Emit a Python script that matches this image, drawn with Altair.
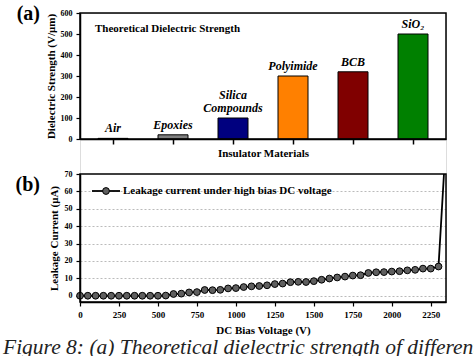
import altair as alt
import pandas as pd

# ---------------- data ----------------
materials = ["Air", "Epoxies", "Silica Compounds", "Polyimide", "BCB", "SiO2"]
bar_labels = ["Air", "Epoxies", "Silica\nCompounds", "Polyimide", "BCB", "SiO₂"]
strength = [3, 20, 100, 300, 320, 500]
bar_colors = ["#111111", "#808080", "#00007f", "#ff8000", "#800000", "#008000"]

voltage = [0, 50, 100, 150, 200, 250, 300, 350, 400, 450, 500, 550,
           600, 650, 700, 750, 800, 850, 900, 950, 1000, 1050, 1100, 1150,
           1200, 1250, 1300, 1350, 1400, 1450, 1500, 1550, 1600, 1650, 1700,
           1750, 1800, 1850, 1900, 1950, 2000, 2050, 2100, 2150, 2200, 2250, 2300]
current = [0, 0, 0, 0, 0, 0, 0, 0, 0, 0, 0, 0.1,
           1.0, 1.2, 1.9, 2.1, 3.3, 3.2, 3.4, 4.2, 4.4, 5.0, 5.4, 5.6,
           6.0, 6.7, 7.0, 7.8, 8.0, 7.9, 8.4, 9.2, 9.9, 10.5, 11.0,
           11.6, 11.8, 13.1, 13.5, 13.6, 13.9, 14.1, 14.6, 14.9, 15.6, 15.6, 16.8]
breakdown_voltage = [2335]
breakdown_current = [70]

a_ticks = list(range(0, 601, 50))
b_xticks = list(range(0, 2251, 125))
b_yticks = list(range(0, 71, 5))

FONT = "Liberation Serif"

# layout (pixels inside the single plot area)
W = 366
H = 289
A_BOTTOM = 126          # panel (a) occupies y 0..126
B_TOP, B_BOTTOM = 161, 289  # panel (b) occupies y 161..289

one = pd.DataFrame({"k": [0]})

# ---------------- panel (a) ----------------
df_a = pd.DataFrame({"material": materials, "label": bar_labels,
                     "strength": strength, "color": bar_colors})

x_a = alt.X("material:N", sort=materials,
            scale=alt.Scale(paddingInner=0.5, paddingOuter=0.3),
            axis=alt.Axis(orient="bottom", offset=A_BOTTOM - H, labels=False,
                          title="Insulator Materials", tickSize=5,
                          tickColor="black", tickWidth=1.5, domainColor="black",
                          domainWidth=1.5, titleFontSize=11, titleFontWeight="bold",
                          titleFont=FONT, titleColor="black", titlePadding=3))
y_a = alt.Y("strength:Q", scale=alt.Scale(domain=[0, 600], nice=False, range=[A_BOTTOM, 0]),
            axis=alt.Axis(orient="left", values=a_ticks, title="Dielectric Strength (V/μm)",
                          labelExpr="datum.value % 100 == 0 ? datum.label : ''",
                          tickSize=alt.condition("datum.value % 100 == 0", alt.value(4), alt.value(2.5)),
                          tickColor="black", tickWidth=1.2, domainColor="black", domainWidth=1.5,
                          labelFont=FONT, labelFontSize=8, labelFontWeight="bold", labelColor="black",
                          labelPadding=4, titleFont=FONT, titleFontSize=11, titleFontWeight="bold",
                          titleColor="black", titlePadding=4, grid=False))

bars = alt.Chart(df_a).mark_bar(stroke="black", strokeWidth=1).encode(
    x=x_a, y=y_a, color=alt.Color("color:N", scale=None))
blabels = alt.Chart(df_a).transform_filter("indexof(datum.label, '\\n') < 0").mark_text(
    font=FONT, fontSize=12, fontWeight="bold", fontStyle="italic", baseline="alphabetic",
    dy=-6, color="black").encode(
    x=alt.X("material:N", sort=materials), y="strength:Q", text="label:N")
blabels2 = alt.Chart(df_a).transform_filter("indexof(datum.label, '\\n') >= 0").mark_text(
    font=FONT, fontSize=12, fontWeight="bold", fontStyle="italic", baseline="alphabetic",
    dy=-19, lineBreak="\n", lineHeight=13, color="black").encode(
    x=alt.X("material:N", sort=materials), y="strength:Q", text="label:N")

panel_a = alt.layer(bars, blabels, blabels2)

# ---------------- panel (b) ----------------
df_b = pd.DataFrame({"V": voltage + breakdown_voltage,
                     "I": current + breakdown_current,
                     "marker": [1] * len(voltage) + [0] * len(breakdown_voltage)})

x_b = alt.X("V:Q", scale=alt.Scale(domain=[0, 2348], nice=False),
            axis=alt.Axis(orient="bottom", values=b_xticks, title="DC Bias Voltage (V)",
                          labelExpr="datum.value % 250 == 0 ? datum.label : ''",
                          format="d",
                          tickSize=alt.condition("datum.value % 250 == 0", alt.value(4), alt.value(2.5)),
                          tickColor="black", tickWidth=1.2, domainColor="black", domainWidth=1.5,
                          labelFont=FONT, labelFontSize=9, labelFontWeight="bold", labelColor="black",
                          labelPadding=4, labelFlush=False, titleFont=FONT, titleFontSize=11,
                          titleFontWeight="bold", titleColor="black", titlePadding=5, grid=False))
y_b = alt.Y("I:Q", scale=alt.Scale(domain=[-3.6, 70], nice=False, zero=False, range=[B_BOTTOM, B_TOP]),
            axis=alt.Axis(orient="left", values=b_yticks, title="Leakage Current (μA)",
                          labelExpr="datum.value % 10 == 0 ? datum.label : ''",
                          tickSize=alt.condition("datum.value % 10 == 0", alt.value(4), alt.value(2.5)),
                          tickColor="black", tickWidth=1.2, domainColor="black", domainWidth=1.5,
                          labelFont=FONT, labelFontSize=8, labelFontWeight="bold", labelColor="black",
                          labelPadding=4, titleFont=FONT, titleFontSize=11, titleFontWeight="bold",
                          titleColor="black", titlePadding=5, grid=True, gridColor="#bbbbbb",
                          gridDash=[2, 2], gridWidth=1,
                          gridOpacity=alt.condition("datum.value % 10 == 0 && datum.value < 70",
                                                    alt.value(1), alt.value(0))))

line = alt.Chart(df_b).mark_line(color="black", strokeWidth=1.8).encode(x=x_b, y=y_b)
pts = alt.Chart(df_b).transform_filter("datum.marker == 1").mark_point(
    filled=True, size=46, fill="#5f5f5f", stroke="black", strokeWidth=1, opacity=1
).encode(x="V:Q", y="I:Q")

panel_b = alt.layer(line, pts)

# ---------------- frames, tags, legend, caption ----------------
frame_a = alt.Chart(one).mark_rect(fill=None, fillOpacity=0, stroke="black", strokeWidth=1.5).encode(
    x=alt.value(0), x2=alt.value(W), y=alt.value(0), y2=alt.value(A_BOTTOM))
frame_b = alt.Chart(one).mark_rect(fill=None, fillOpacity=0, stroke="black", strokeWidth=1.5).encode(
    x=alt.value(0), x2=alt.value(W), y=alt.value(B_TOP), y2=alt.value(B_BOTTOM))

def label(text, x, y, size, weight="bold", style="normal", align="left",
          baseline="middle", color="black"):
    return alt.Chart(pd.DataFrame({"t": [text]})).mark_text(
        font=FONT, fontSize=size, fontWeight=weight, fontStyle=style, align=align,
        baseline=baseline, color=color).encode(x=alt.value(x), y=alt.value(y), text="t:N")

title_a = label("Theoretical Dielectric Strength", 15, 16, 11)
tag_a = label("(a)", -40, 1, 20, align="right")
tag_b = label("(b)", -40, B_TOP + 11, 20, align="right")

leg_line = alt.Chart(one).mark_rule(color="black", strokeWidth=1.8).encode(
    x=alt.value(12), x2=alt.value(40), y=alt.value(B_TOP + 17))
leg_pt = alt.Chart(one).mark_point(
    filled=True, size=46, fill="#5f5f5f", stroke="black", strokeWidth=1, opacity=1
).encode(x=alt.value(26), y=alt.value(B_TOP + 17))
leg_txt = label("Leakage current under high bias DC voltage", 43, B_TOP + 17, 11)

caption = label("Figure 8: (a) Theoretical dielectric strength of different insulator materials",
                -77, 341, 21.5, weight="normal", style="italic", baseline="alphabetic",
                color="#222222")

chart = alt.layer(
    panel_a, panel_b, frame_a, frame_b, title_a, tag_a, tag_b,
    leg_line, leg_pt, leg_txt, caption
).resolve_scale(x="independent", y="independent").properties(
    width=W, height=H,
    autosize=alt.AutoSizeParams(type="none"),
    padding={"left": 80, "top": 13, "right": 474 - 80 - W, "bottom": 356 - 13 - H},
    background="white",
).configure_view(strokeOpacity=0).configure(font=FONT)

chart.save("out.html", embed_options={"renderer": "svg", "actions": False})
